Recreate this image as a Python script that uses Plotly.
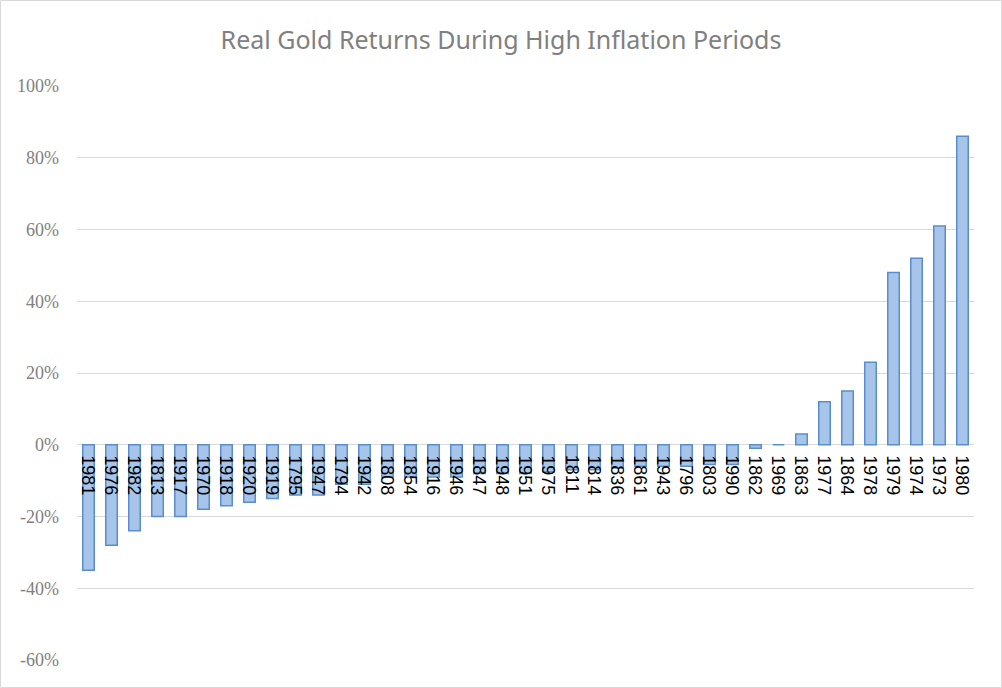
import plotly.graph_objects as go

years = ["1981", "1976", "1982", "1813", "1917", "1970", "1918", "1920", "1919", "1795",
         "1947", "1794", "1942", "1808", "1854", "1916", "1946", "1847", "1948", "1951",
         "1975", "1811", "1814", "1836", "1861", "1943", "1796", "1803", "1990", "1862",
         "1969", "1863", "1977", "1864", "1978", "1979", "1974", "1973", "1980"]
returns = [-0.35, -0.28, -0.24, -0.20, -0.20, -0.18, -0.17, -0.16, -0.15, -0.14,
           -0.14, -0.11, -0.11, -0.09, -0.09, -0.09, -0.09, -0.08, -0.08, -0.08,
           -0.075, -0.07, -0.07, -0.065, -0.06, -0.06, -0.06, -0.055, -0.055, -0.01,
           0.0, 0.03, 0.12, 0.15, 0.23, 0.48, 0.52, 0.61, 0.86]
tick_vals = [-0.6, -0.4, -0.2, 0.0, 0.2, 0.4, 0.6, 0.8, 1.0]
tick_text = ["-60%", "-40%", "-20%", "0%", "20%", "40%", "60%", "80%", "100%"]

W, H = 1002, 688
L, R, T, B = 77, 28, 86, 28
pw, ph = W - L - R, H - T - B

fig = go.Figure()
fig.add_trace(go.Bar(
    x=years, y=returns, width=0.5,
    marker=dict(color="#a7c5eb", line=dict(color="#5b8ec8", width=1.5)),
    hoverinfo="x+y",
))

# category labels sit just under the zero line (category axis -> index positions)
for i, yr in enumerate(years):
    fig.add_annotation(x=i, y=0, xref="x", yref="y", text=yr, textangle=90,
                       showarrow=False, yanchor="top", xanchor="center", yshift=-8,
                       font=dict(family="Liberation Sans, Arial", size=18, color="#000000"))

fig.add_shape(type="rect", xref="paper", yref="paper",
              x0=(0.5 - L) / pw, x1=(W - 0.5 - L) / pw,
              y0=(H - B - (H - 0.5)) / ph, y1=(H - B - 0.5) / ph,
              line=dict(color="#d9d9d9", width=1), layer="below")

fig.update_layout(
    width=W, height=H,
    margin=dict(l=L, r=R, t=T, b=B),
    paper_bgcolor="white", plot_bgcolor="white",
    showlegend=False,
    title=dict(text="Real Gold Returns During High Inflation Periods",
               x=0.5, xref="container", xanchor="center", y=1 - 40 / H, yanchor="middle",
               font=dict(family="Noto Sans, Open Sans", size=25, color="#808080")),
    xaxis=dict(type="category", categoryorder="array", categoryarray=years,
               showticklabels=False, showgrid=False, showline=False, zeroline=False,
               ticks="", range=[-0.5, len(years) - 0.5]),
    yaxis=dict(range=[-0.6, 1.0], tickvals=tick_vals, ticktext=tick_text,
               showgrid=True, gridcolor="#d9d9d9", gridwidth=1,
               zeroline=True, zerolinecolor="#d9d9d9", zerolinewidth=1,
               showline=False, ticks="", ticklabelstandoff=17,
               tickfont=dict(family="Liberation Serif, Times New Roman", size=18, color="#808080")),
)

fig.write_html("out.html")
